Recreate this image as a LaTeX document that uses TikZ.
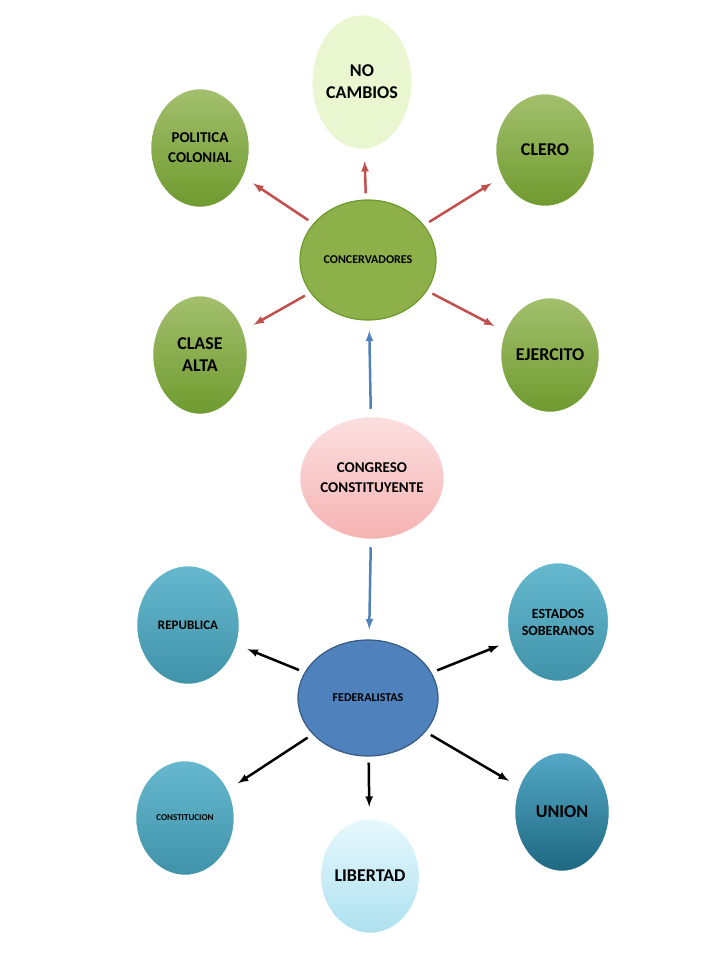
\documentclass[tikz,border=0pt]{standalone}
\usepackage{fontspec}
\setmainfont{Carlito}
\usetikzlibrary{shapes.geometric}
\definecolor{verde}{HTML}{8DB04A}
\definecolor{verdeosc}{HTML}{6E9A2E}
\definecolor{verdeclaro}{HTML}{EAF6CF}
\definecolor{rosa}{HTML}{F6B2B2}
\definecolor{azul}{HTML}{4F81BD}
\definecolor{turq}{HTML}{4BACC6}
\definecolor{turqosc}{HTML}{2A93B8}
\definecolor{celeste}{HTML}{C5EEFA}
\definecolor{rojo}{HTML}{C0504D}
\begin{document}
\begin{tikzpicture}[
  x=1pt, y=-1pt,
  bola/.style={ellipse, draw=white, line width=2.5pt, align=center,
    font=\bfseries\fontsize{18}{22}\selectfont, inner sep=0pt},
  verdes/.style={bola, top color=verde!80!white, bottom color=verdeosc},
  turqs/.style={bola, top color=turq!85!white, bottom color=turq!85!black},
  flecha/.style={-latex, line width=2.5pt, shorten <=6pt, shorten >=10pt},
]
\useasboundingbox (0,0) rectangle (720,960);

\node [bola, fill=verdeclaro, minimum width=100, minimum height=136] (nocam) at (362,82) {NO\\CAMBIOS};
\node [verdes, minimum width=100, minimum height=120, font=\bfseries\fontsize{15}{20}\selectfont] (polit) at (200,148) {POLITICA\\COLONIAL};
\node [verdes, minimum width=100, minimum height=114] (clero) at (545,150) {CLERO};
\node [bola, draw=verdeosc, line width=1.2pt, fill=verde, minimum width=136, minimum height=120, font=\bfseries\fontsize{12}{14}\selectfont] (cons) at (368,260) {CONCERVADORES};
\node [verdes, minimum width=96, minimum height=120] (clase) at (200,355) {CLASE\\ALTA};
\node [verdes, minimum width=100, minimum height=116] (ejer) at (550,355) {EJERCITO};
\node [bola, top color=rosa!40!white, bottom color=rosa, minimum width=144, minimum height=124, font=\bfseries\fontsize{15}{20}\selectfont] (congreso) at (372,478) {CONGRESO\\CONSTITUYENTE};
\node [turqs, minimum width=104, minimum height=120, font=\bfseries\fontsize{13}{16}\selectfont] (repub) at (188,625) {REPUBLICA};
\node [turqs, minimum width=100, minimum height=120, font=\bfseries\fontsize{14}{17}\selectfont] (estados) at (558,622) {ESTADOS\\SOBERANOS};
\node [bola, draw=azul!70!black, line width=1.2pt, fill=azul, minimum width=140, minimum height=116, font=\bfseries\fontsize{12}{14}\selectfont] (feder) at (368,698) {FEDERALISTAS};
\node [turqs, minimum width=100, minimum height=116, font=\bfseries\fontsize{9}{11}\selectfont] (const) at (185,818) {CONSTITUCION};
\node [bola, top color=turqosc!80!white, bottom color=turqosc!70!black, minimum width=96, minimum height=120] (union) at (562,812) {UNION};
\node [bola, top color=celeste!40!white, bottom color=celeste!80!turq, minimum width=100, minimum height=116] (libertad) at (370,876) {LIBERTAD};

\foreach \destino in {nocam,polit,clero,clase,ejer}
  \draw [flecha, rojo] (cons) -- (\destino);
\draw [flecha, azul] (congreso) -- (cons);
\draw [flecha, azul] (congreso) -- (feder);
\foreach \destino in {repub,estados,const,union,libertad}
  \draw [flecha, black] (feder) -- (\destino);

\end{tikzpicture}
\end{document}
